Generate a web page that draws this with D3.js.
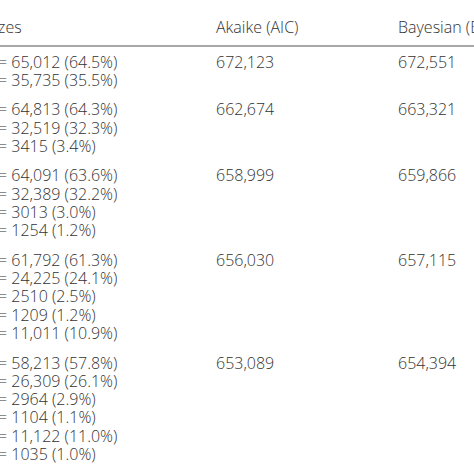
<!DOCTYPE html>
<html><head><meta charset="utf-8">
<script src="https://cdn.jsdelivr.net/npm/d3@7"></script>
<style>body{margin:0;background:#fff}text{font-family:"Open Sans",sans-serif;font-size:16px;font-weight:300;fill:#333}</style>
</head><body><svg width="474" height="474"></svg>
<script>
var headers = ["zes", "Akaike (AIC)", "Bayesian (BIC)"];
var sizes = [
  ["= 65,012 (64.5%)", "= 35,735 (35.5%)"],
  ["= 64,813 (64.3%)", "= 32,519 (32.3%)", "= 3415 (3.4%)"],
  ["= 64,091 (63.6%)", "= 32,389 (32.2%)", "= 3013 (3.0%)", "= 1254 (1.2%)"],
  ["= 61,792 (61.3%)", "= 24,225 (24.1%)", "= 2510 (2.5%)", "= 1209 (1.2%)", "= 11,011 (10.9%)"],
  ["= 58,213 (57.8%)", "= 26,309 (26.1%)", "= 2964 (2.9%)", "= 1104 (1.1%)", "= 11,122 (11.0%)", "= 1035 (1.0%)"]
];
var aic = ["672,123", "662,674", "658,999", "656,030", "653,089"];
var bic = ["672,551", "663,321", "659,866", "657,115", "654,394"];

var svg = d3.select("svg");
var colX = [-2, 216, 398];
var lineH = 18.3, groupGap = 11.2;

svg.selectAll("text.h").data(headers).enter().append("text")
    .attr("x", function(d, i) { return colX[i]; })
    .attr("y", 33).text(function(d) { return d; });
svg.append("line").attr("x1", 0).attr("x2", 474).attr("y1", 46).attr("y2", 46)
    .attr("stroke", "#8a8a8a").attr("stroke-width", 1.3);

var y = 67.5;
sizes.forEach(function(g, gi) {
  var g0 = y;
  g.forEach(function(s, si) {
    svg.append("text").attr("x", colX[0]).attr("y", y + si * lineH).text(s);
  });
  svg.append("text").attr("x", colX[1]).attr("y", g0).text(aic[gi]);
  svg.append("text").attr("x", colX[2]).attr("y", g0).text(bic[gi]);
  y += g.length * lineH + groupGap;
});
</script></body></html>
